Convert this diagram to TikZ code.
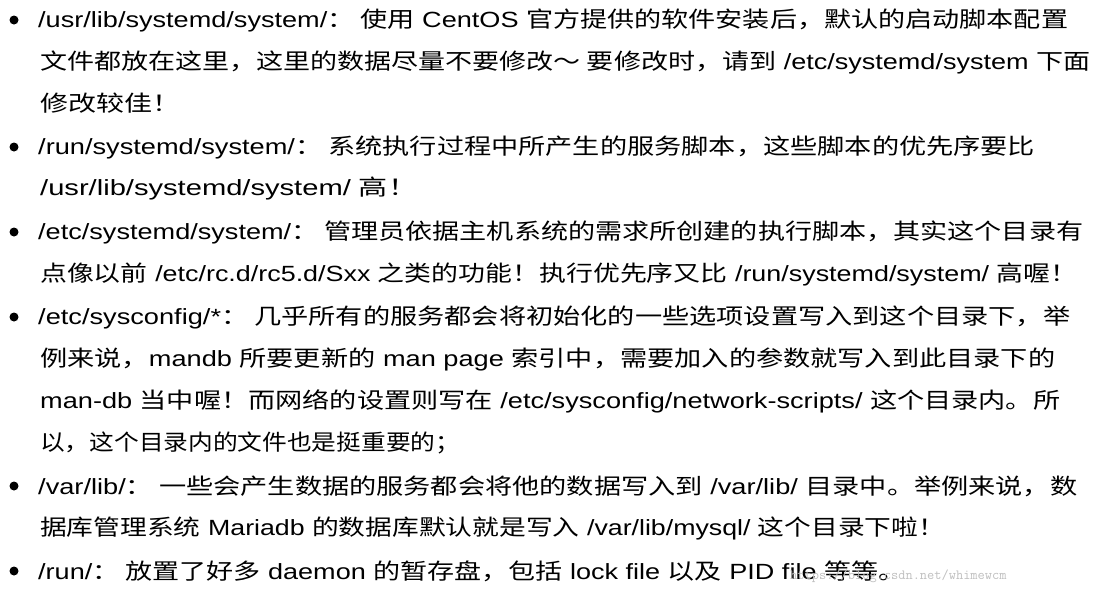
\documentclass[tikz,border=0pt]{standalone}
\usepackage{fontspec}
\usepackage{graphicx}
\setmainfont{Liberation Sans}
\newfontfamily\zh{Noto Sans CJK SC}
\newcommand{\fitline}[2]{\resizebox{#1pt}{\height}{#2}}
\newcommand{\Z}[1]{{\zh #1}}
\begin{document}
\begin{tikzpicture}[x=1pt,y=1pt,
  ln/.style={anchor=west,inner sep=0pt,font=\fontsize{22}{26}\selectfont},
  bul/.style={fill=black,circle,inner sep=0pt,minimum size=9pt}]
\useasboundingbox (0,0) rectangle (1102,-597);
\foreach \y/\n in {20/b1,147/b2,232/b3,317/b4,486/b5,571/b6}
  \node[bul] (\n) at (14,-\y) {};
\node[ln] (l1) at (38,-20) {\fitline{1030}{/usr/lib/systemd/system/\Z{： 使用} CentOS \Z{官方提供的软件安装后，默认的启动脚本配置}}};
\node[ln] (l2) at (40,-62) {\fitline{1050}{\Z{文件都放在这里，这里的数据尽量不要修改～ 要修改时，请到} /etc/systemd/system \Z{下面}}};
\node[ln] (l3) at (40,-103) {\fitline{140}{\Z{修改较佳！}}};
\node[ln] (l4) at (38,-147) {\fitline{997}{/run/systemd/system/\Z{： 系统执行过程中所产生的服务脚本，这些脚本的优先序要比}}};
\node[ln] (l5) at (40,-189) {\fitline{377}{/usr/lib/systemd/system/ \Z{高！}}};
\node[ln] (l6) at (38,-232) {\fitline{1045}{/etc/systemd/system/\Z{： 管理员依据主机系统的需求所创建的执行脚本，其实这个目录有}}};
\node[ln] (l7) at (40,-274) {\fitline{1037}{\Z{点像以前} /etc/rc.d/rc5.d/Sxx \Z{之类的功能！执行优先序又比} /run/systemd/system/ \Z{高喔！}}};
\node[ln] (l8) at (38,-317) {\fitline{1032}{/etc/sysconfig/*\Z{： 几乎所有的服务都会将初始化的一些选项设置写入到这个目录下，举}}};
\node[ln] (l9) at (40,-359) {\fitline{1015}{\Z{例来说，}mandb \Z{所要更新的} man page \Z{索引中，需要加入的参数就写入到此目录下的}}};
\node[ln] (l10) at (40,-401) {\fitline{1020}{man-db \Z{当中喔！而网络的设置则写在} /etc/sysconfig/network-scripts/ \Z{这个目录内。所}}};
\node[ln] (l11) at (40,-443) {\fitline{420}{\Z{以，这个目录内的文件也是挺重要的；}}};
\node[ln] (l12) at (38,-486) {\fitline{1039}{/var/lib/\Z{： 一些会产生数据的服务都会将他的数据写入到} /var/lib/ \Z{目录中。举例来说，数}}};
\node[ln] (l13) at (40,-528) {\fitline{905}{\Z{据库管理系统} Mariadb \Z{的数据库默认就是写入} /var/lib/mysql/ \Z{这个目录下啦！}}};
\node[ln] (l14) at (38,-571) {\fitline{867}{/run/\Z{： 放置了好多} daemon \Z{的暂存盘，包括} lock file \Z{以及} PID file \Z{等等。}}};
\node[anchor=west,inner sep=0pt,text=black!25,font=\ttfamily\fontsize{14}{16}\selectfont] (wm) at (790,-576) {https://blog.csdn.net/whimewcm};
\end{tikzpicture}
\end{document}
